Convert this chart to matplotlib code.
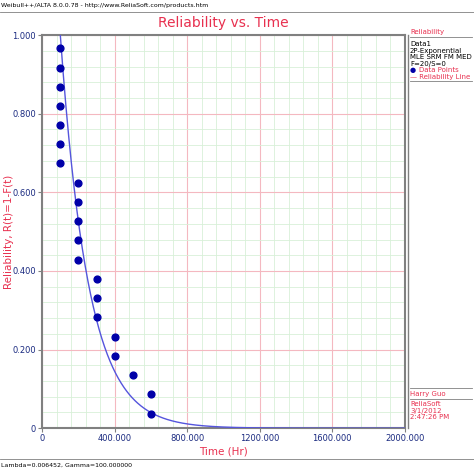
import matplotlib.pyplot as plt
import numpy as np
from matplotlib.ticker import MultipleLocator

times = [100]*7 + [200]*5 + [300]*3 + [400]*2 + [500] + [600]*2
rel = [0.966, 0.917, 0.869, 0.820, 0.771, 0.723, 0.674,
       0.625, 0.576, 0.527, 0.478, 0.429,
       0.380, 0.331, 0.282,
       0.233, 0.184,
       0.135,
       0.086, 0.037]
lam = 0.006452
gamma = 100.0

red = '#e8304f'
navy = '#1a2a80'
fig = plt.figure(figsize=(4.74, 4.68), dpi=100)
ax = fig.add_axes([0.089, 0.085, 0.765, 0.84])

t = np.linspace(gamma, 2000, 500)
ax.plot(t, np.exp(-lam*(t-gamma)), color='#5555dd', lw=1, zorder=3)
ax.scatter(times, rel, s=24, color='#0000a8', zorder=4)

ax.set_xlim(0, 2000)
ax.set_ylim(0, 1)
ax.xaxis.set_major_locator(MultipleLocator(400))
ax.yaxis.set_major_locator(MultipleLocator(0.2))
ax.xaxis.set_minor_locator(MultipleLocator(80))
ax.yaxis.set_minor_locator(MultipleLocator(0.04))
ax.grid(which='minor', color='#d8f0d8', lw=0.6)
ax.grid(which='major', color='#f4b8c0', lw=0.8)
ax.set_xticklabels([f'{v:.3f}' if v > 0 else '0' for v in ax.get_xticks()], fontsize=6, color=navy)
ax.set_yticklabels([f'{v:.3f}' if v > 0 else '0' for v in ax.get_yticks()], fontsize=6, color=navy)
ax.tick_params(which='minor', length=0)
ax.tick_params(which='major', length=3, color='gray', pad=1.5)
for s in ax.spines.values():
    s.set_color('gray')
    s.set_linewidth(1.5)
ax.set_title('Reliability vs. Time', color=red, fontsize=10)
ax.set_xlabel('Time (Hr)', color=red, fontsize=7.5, labelpad=2)
fig.text(0.018, 0.505, 'Reliability, R(t)=1-F(t)', color=red, fontsize=7.5,
         rotation=90, ha='center', va='center')

fig.text(0.003, 0.993, 'Weibull++/ALTA 8.0.0.78 - http://www.ReliaSoft.com/products.htm',
         fontsize=4.5, va='top')
fig.add_artist(plt.Line2D([0, 1], [0.975, 0.975], color='gray', lw=0.6))
fig.add_artist(plt.Line2D([0, 1], [0.02, 0.02], color='gray', lw=0.6))
fig.text(0.003, 0.003, 'Lambda=0.006452, Gamma=100.000000', fontsize=4.5)

x0 = 0.865
fig.add_artist(plt.Line2D([x0-0.005, x0-0.005], [0.085, 0.925], color='gray', lw=1))
fig.text(x0, 0.925, 'Reliability', color=red, fontsize=5, va='bottom')
fig.add_artist(plt.Line2D([x0, 0.995], [0.922, 0.922], color='gray', lw=0.6))
lines = ['Data1', '2P-Exponential', 'MLE SRM FM MED', 'F=20/S=0']
for i, s in enumerate(lines):
    fig.text(x0, 0.912 - i*0.014, s, fontsize=5, va='top')
fig.text(x0, 0.856, '●', color='#0000a8', fontsize=5, va='top')
fig.text(x0+0.018, 0.856, 'Data Points', color=red, fontsize=5, va='top')
fig.text(x0, 0.842, '— Reliability Line', color=red, fontsize=5, va='top')
fig.add_artist(plt.Line2D([x0, 0.995], [0.826, 0.826], color='gray', lw=0.6))
fig.add_artist(plt.Line2D([x0, 0.995], [0.17, 0.17], color='gray', lw=0.6))
fig.text(x0, 0.165, 'Harry Guo', color=red, fontsize=5, va='top')
fig.add_artist(plt.Line2D([x0, 0.995], [0.147, 0.147], color='gray', lw=0.6))
for i, s in enumerate(['ReliaSoft', '3/1/2012', '2:47:26 PM']):
    fig.text(x0, 0.143 - i*0.014, s, color=red, fontsize=5, va='top')

fig.savefig('out.png', dpi=100)
